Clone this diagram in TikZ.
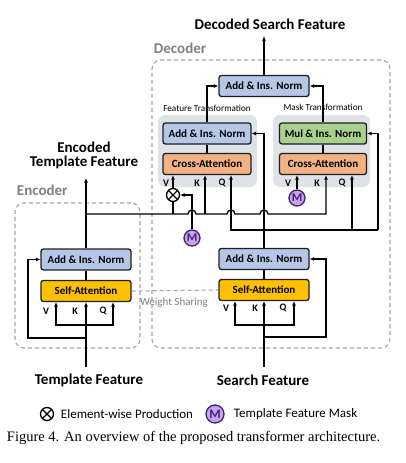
\documentclass[tikz,border=0pt]{standalone}
\usepackage{fontspec}
\setmainfont{Carlito}
\newfontfamily\capfont{Liberation Serif}
\usetikzlibrary{arrows.meta, positioning, fit, calc}
\definecolor{norm_blue}{HTML}{B4C7E7}
\definecolor{cross_orange}{HTML}{F4B183}
\definecolor{mul_green}{HTML}{A9D18E}
\definecolor{self_yellow}{HTML}{FFC000}
\definecolor{grp_gray}{HTML}{DEE3EA}
\definecolor{mask_purple}{HTML}{C9A3EA}
\definecolor{mask_edge}{HTML}{3F2175}
\definecolor{dash_gray}{HTML}{A6A6A6}
\definecolor{label_gray}{HTML}{808080}
\definecolor{box_edge}{HTML}{1E1E1E}

\begin{document}
\begin{tikzpicture}[x=1pt, y=-1pt, line width=1.3pt,
  >={Latex[length=4.5pt,width=4pt]},
  box/.style={draw=box_edge, rounded corners=2.5pt, line width=1.3pt, align=center,
              minimum width=90pt, minimum height=21pt, inner sep=0pt,
              font=\fontsize{11}{13}\selectfont\bfseries},
  grp/.style={fill=grp_gray, rounded corners=7pt, inner sep=0pt},
  dashframe/.style={draw=dash_gray, rounded corners=9pt, line width=1.1pt,
              dash pattern=on 4pt off 3pt, inner sep=0pt},
  port/.style={font=\fontsize{10}{12}\selectfont\bfseries, inner sep=0pt},
  title/.style={font=\fontsize{15}{17}\selectfont\bfseries, align=center},
  maskdot/.style={circle, draw=mask_edge, fill=mask_purple, line width=1.3pt,
              minimum size=16pt, inner sep=0pt, text=mask_edge,
              font=\fontsize{12}{13}\selectfont\bfseries},
  prod/.style={circle, draw, line width=1.3pt, minimum size=13pt, inner sep=0pt,
              path picture={\draw[line width=1.3pt]
                (path picture bounding box.south west) -- (path picture bounding box.north east)
                (path picture bounding box.north west) -- (path picture bounding box.south east);}}]
  \useasboundingbox (0,0) rectangle (405,463);

  % frames
  \node[dashframe, fit={(152,60) (390,348)}] (dec_frame) {};
  \node[dashframe, fit={(15,203) (140,348)}] (enc_frame) {};
  \node[anchor=west, text=label_gray, font=\fontsize{15}{17}\selectfont\bfseries] (dec_label) at (150,48) {Decoder};
  \node[anchor=west, text=label_gray, font=\fontsize{15}{17}\selectfont\bfseries] (enc_label) at (13,190) {Encoder};
  \node[grp, fit={(158,115) (257,187)}] (feat_grp) {};
  \node[grp, fit={(273,115) (370,187)}] (mask_grp) {};
  \node[font=\fontsize{9.2}{11}\selectfont] (feat_title) at (207,108) {Feature Transformation};
  \node[font=\fontsize{9.2}{11}\selectfont] (mask_title) at (323,107) {Mask Transformation};

  % boxes
  \node[box, fill=norm_blue] (enc_norm) at (86,259.5) {Add \& Ins. Norm};
  \node[box, fill=self_yellow] (enc_self) at (86,291) {Self-Attention};
  \node[box, fill=norm_blue] (srch_norm) at (264,259) {Add \& Ins. Norm};
  \node[box, fill=self_yellow] (srch_self) at (264,290) {Self-Attention};
  \node[box, fill=norm_blue] (dec_norm) at (264,86) {Add \& Ins. Norm};
  \node[box, fill=norm_blue, minimum width=88pt] (feat_norm) at (207,133.5) {Add \& Ins. Norm};
  \node[box, fill=cross_orange, minimum width=88pt] (feat_cross) at (207,164) {Cross-Attention};
  \node[box, fill=mul_green, minimum width=87pt] (mask_norm) at (323,133.5) {Mul \& Ins. Norm};
  \node[box, fill=cross_orange, minimum width=87pt] (mask_cross) at (323,164) {Cross-Attention};
  \node[prod] (fprod) at (173,195) {};
  \node[maskdot] (fmask) at (192,238) {M};
  \node[maskdot] (mmask) at (297,198) {M};

  % ports
  \node[port] (enc_v) at (46,311) {V};
  \node[port] (enc_k) at (75,311) {K};
  \node[port] (enc_q) at (103,311) {Q};
  \node[port] (srch_v) at (226,308) {V};
  \node[port] (srch_k) at (255,308) {K};
  \node[port] (srch_q) at (283,308) {Q};
  \node[port] (feat_v) at (166,183) {V};
  \node[port] (feat_k) at (197,183) {K};
  \node[port] (feat_q) at (222,183) {Q};
  \node[port] (mask_v) at (288,183) {V};
  \node[port] (mask_k) at (317,183) {K};
  \node[port] (mask_q) at (342,183) {Q};

  % texts
  \coordinate (tmpl_in) at (86,367);
  \coordinate (srch_in) at (264,367);
  \coordinate (enc_out) at (86,178);
  \coordinate (dec_out) at (264,36);
  \node[title] (enc_text) at (84,155) {Encoded\\[-3pt]Template Feature};
  \node[title] (dec_text) at (270,24) {Decoded Search Feature};
  \node[title] (tmpl_text) at (89,380) {Template Feature};
  \node[title] (srch_text) at (263,380) {Search Feature};

  % encoder
  \draw[->] (tmpl_in) -- (enc_self.south);
  \draw[->] (86,325) -| ($(enc_self.south)+(-30,0)$);
  \draw[->] (86,325) -| ($(enc_self.south)+(27,0)$);
  \draw[->] (86,338) -- (28,338) |- (enc_norm.west);
  \draw (enc_self) -- (enc_norm);
  \draw[->] (enc_norm.north) -- (enc_out);

  % search branch
  \draw[->] (srch_in) -- (srch_self.south);
  \draw[->] (264,325) -| ($(srch_self.south)+(-29,0)$);
  \draw[->] (264,325) -| ($(srch_self.south)+(30,0)$);
  \draw[->] (264,337) -- (326,337) |- (srch_norm.east);
  \draw (srch_self) -- (srch_norm);
  \draw[->] (srch_norm.north) |- (feat_norm.east);
  \draw[dash_gray, line width=1.1pt, dash pattern=on 4pt off 3pt] (enc_self.east) -- (srch_self.west);
  \node[text=label_gray, font=\fontsize{11}{13}\selectfont] (share_text) at (174,303) {Weight Sharing};

  % template feature to decoder
  \draw[->] (86,214) -- (188,214) arc[start angle=180, end angle=0, radius=4pt]
    -- (227,214) arc[start angle=180, end angle=0, radius=4pt]
    -- (260,214) arc[start angle=180, end angle=0, radius=4pt]
    -- (326,214) -- ($(mask_cross.south)+(3,0)$);
  \draw (173,214) -- (fprod.south);
  \draw[->] (205,214) -- ($(feat_cross.south)+(-2,0)$);
  \draw[->] (fprod.north) -- (fprod.north |- feat_cross.south);
  \draw[->] (fmask.north) |- (fprod.east);
  \draw[->] (mmask.north) -- (mmask.north |- mask_cross.south);

  % search feature to decoder
  \draw[->] (378,230) -- (231,230) -- ($(feat_cross.south)+(24,0)$);
  \draw[->] (352,230) -- ($(mask_cross.south)+(29,0)$);
  \draw[->] (378,230) |- (mask_norm.east);

  % decoder top
  \draw (feat_cross) -- (feat_norm);
  \draw (mask_cross) -- (mask_norm);
  \draw[->] (feat_norm.north) |- (dec_norm.west);
  \draw[->] (mask_norm.north) |- (dec_norm.east);
  \draw[->] (dec_norm.north) -- (dec_out);

  % legend
  \node[prod, minimum size=13pt] (key_prod) at (47,414) {};
  \node[anchor=west, font=\fontsize{13}{15}\selectfont] (key_prod_text) at (57,414) {Element-wise Production};
  \node[maskdot, minimum size=18pt, font=\fontsize{13}{14}\selectfont\bfseries] (key_mask) at (215,414) {M};
  \node[anchor=west, font=\fontsize{13}{15}\selectfont] (key_mask_text) at (230,414) {Template Feature Mask};
  \node[anchor=west, font=\capfont\fontsize{14.5}{16}\selectfont] (caption) at (3,438) {Figure 4. An overview of the proposed transformer architecture.};
\end{tikzpicture}
\end{document}
